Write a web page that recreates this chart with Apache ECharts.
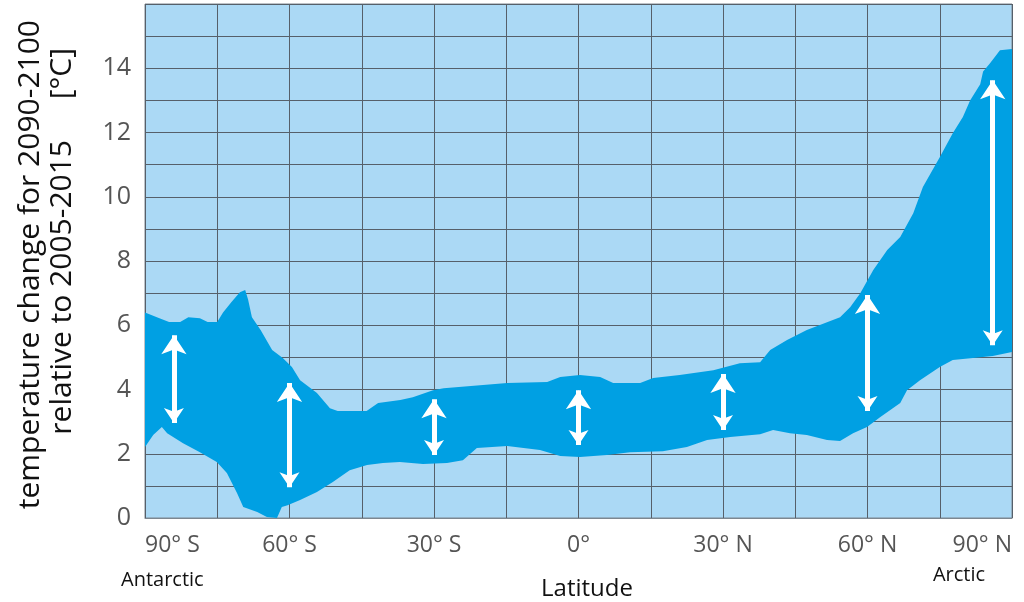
<!DOCTYPE html>
<html>
<head>
<meta charset="utf-8">
<script src="https://cdn.jsdelivr.net/npm/echarts@6/dist/echarts.min.js"></script>
<style>
  html, body { margin: 0; padding: 0; background: #fff; }
  #main { width: 1024px; height: 602px; }
</style>
</head>
<body>
<div id="main"></div>
<script>
// upper edge of the warming band: [latitude, °C]
const upperEdge = [
  [-90, 6.4], [-87, 6.22], [-85, 6.1], [-82.7, 6.1], [-81, 6.25], [-78.6, 6.22], [-77, 6.1],
  [-75, 6.1], [-73.8, 6.4], [-72, 6.73], [-70.3, 7.03], [-69.2, 7.1], [-68.6, 6.8], [-67.8, 6.25],
  [-66, 5.85], [-63.6, 5.23], [-61.4, 4.98], [-59.5, 4.7], [-57.8, 4.29], [-54.3, 3.89],
  [-51.6, 3.42], [-50, 3.33], [-44, 3.33], [-41.6, 3.58], [-37, 3.67], [-34.4, 3.76],
  [-30.2, 3.98], [-28, 4.04], [-14.8, 4.2], [-6.5, 4.23], [-3.8, 4.39], [0.3, 4.45], [4.5, 4.39],
  [7.2, 4.2], [12.8, 4.2], [15.5, 4.36], [21, 4.45], [28, 4.6], [33.5, 4.82], [37.7, 4.85],
  [39.8, 5.23], [43.3, 5.54], [47.4, 5.85], [54.3, 6.25], [56.4, 6.56], [58.5, 7.0], [61.2, 7.72],
  [64.1, 8.34], [66.8, 8.75], [69.5, 9.49], [71.5, 10.3], [75, 11.23], [77.7, 11.98],
  [79.8, 12.48], [81.3, 13.0], [83.4, 13.5], [84, 13.9], [85.4, 14.15], [87.5, 14.56], [90, 14.6]
];
// lower edge of the band
const lowerEdge = [
  [-90, 2.21], [-88.3, 2.58], [-86.5, 2.83], [-85.4, 2.64], [-82.1, 2.33], [-78.6, 2.05],
  [-75.1, 1.74], [-73, 1.4], [-70.9, 0.78], [-69.6, 0.34], [-66.7, 0.19], [-64.7, 0.03],
  [-62.6, 0], [-61.6, 0.34], [-60.4, 0.4], [-57.8, 0.56], [-54.3, 0.81], [-51, 1.12],
  [-47.5, 1.49], [-43.9, 1.65], [-40.6, 1.71], [-37.1, 1.74], [-32.3, 1.68], [-27.3, 1.71],
  [-24, 1.8], [-21.1, 2.18], [-14.8, 2.24], [-8, 2.12], [-3.8, 1.93], [0.3, 1.9], [5.9, 1.96],
  [10.7, 2.05], [17.5, 2.08], [22.5, 2.21], [26.7, 2.43], [31.5, 2.52], [37.7, 2.61],
  [40.4, 2.74], [43.9, 2.64], [47.4, 2.58], [51.6, 2.43], [54.3, 2.4], [57, 2.64], [59.9, 2.83],
  [62.6, 3.14], [66.8, 3.58], [68.2, 3.98], [70.9, 4.29], [75, 4.7], [77.7, 4.92], [81.9, 4.98],
  [86, 5.04], [90, 5.17]
];

// double arrows showing the spread
const arrowLat = [-84, -60, -30, 0, 30, 60, 86];
const arrowTop = [5.69, 4.2, 3.7, 3.98, 4.48, 6.94, 13.63];
const arrowBottom = [2.96, 0.96, 1.96, 2.27, 2.74, 3.33, 5.38];

const latTicks = { '-90': '90° S', '-60': '60° S', '-30': '30° S', '0': '0°', '30': '30° N', '60': '60° N', '90': '90° N' };

const chart = echarts.init(document.getElementById('main'));

const titleFont = { fill: '#111', fontSize: 30, fontFamily: 'Open Sans', align: 'right', verticalAlign: 'middle' };

chart.setOption({
  animation: false,
  grid: {
    left: 145, right: 12, top: 4, bottom: 84,
    show: true,
    backgroundColor: '#abd9f5',
    borderColor: '#7d8790',
    borderWidth: 1
  },
  xAxis: {
    type: 'value',
    min: -90, max: 90, interval: 15,
    axisLine: { show: true, lineStyle: { color: '#7d8790', width: 1 } },
    axisTick: { show: false },
    splitLine: { show: true, lineStyle: { color: '#56606a', width: 1 } },
    axisLabel: {
      margin: 16,
      color: '#555',
      fontSize: 23,
      fontFamily: 'Open Sans',
      alignMinLabel: 'left',
      alignMaxLabel: 'right',
      formatter: v => latTicks[String(v)] || ''
    }
  },
  yAxis: {
    type: 'value',
    min: 0, max: 16, interval: 1,
    axisLine: { show: false },
    axisTick: { show: false },
    splitLine: { show: true, lineStyle: { color: '#56606a', width: 1 } },
    axisLabel: {
      margin: 14,
      color: '#555',
      fontSize: 25,
      fontFamily: 'Open Sans',
      formatter: v => (v % 2 === 0 && v < 16) ? String(v) : ''
    }
  },
  series: [
    {
      // the band, closed polygon upper edge -> lower edge reversed
      type: 'custom',
      coordinateSystem: 'cartesian2d',
      data: [[0, 0]],
      z: 2,
      renderItem: (params, api) => {
        const pts = upperEdge.map(p => api.coord(p))
          .concat(lowerEdge.slice().reverse().map(p => api.coord(p)));
        return {
          type: 'polygon',
          shape: { points: pts },
          style: { fill: '#00a0e3', stroke: null }
        };
      }
    },
    {
      type: 'lines',
      coordinateSystem: 'cartesian2d',
      z: 3,
      symbol: ['arrow', 'arrow'],
      symbolSize: [19, 15],
      lineStyle: { color: '#ffffff', width: 5, opacity: 1, curveness: 0 },
      data: arrowLat.map((lat, i) => ({ coords: [[lat, arrowTop[i]], [lat, arrowBottom[i]]] }))
    }
  ],
  graphic: [
    {
      type: 'text', x: 30, y: 20, rotation: Math.PI / 2,
      style: Object.assign({ text: 'temperature change for 2090-2100' }, titleFont)
    },
    {
      type: 'text', x: 62, y: 140, rotation: Math.PI / 2,
      style: Object.assign({ text: 'relative to 2005-2015' }, titleFont)
    },
    {
      type: 'text', x: 62, y: 48, rotation: Math.PI / 2,
      style: Object.assign({ text: '[°C]' }, titleFont)
    },
    {
      type: 'text', x: 927, y: 298,
      style: { text: 'Arctic', fill: '#fff', fontSize: 25, fontFamily: 'Open Sans', align: 'center', verticalAlign: 'middle' }
    },
    {
      type: 'text', x: 121, y: 580,
      style: { text: 'Antarctic', fill: '#111', fontSize: 20, fontFamily: 'Open Sans', align: 'left', verticalAlign: 'middle' }
    },
    {
      type: 'text', x: 959, y: 575,
      style: { text: 'Arctic', fill: '#111', fontSize: 20, fontFamily: 'Open Sans', align: 'center', verticalAlign: 'middle' }
    },
    {
      type: 'text', x: 587, y: 589,
      style: { text: 'Latitude', fill: '#111', fontSize: 24, fontFamily: 'Open Sans', align: 'center', verticalAlign: 'middle' }
    }
  ]
});

window.addEventListener('resize', () => {
  chart.resize();
});
</script>
</body>
</html>
